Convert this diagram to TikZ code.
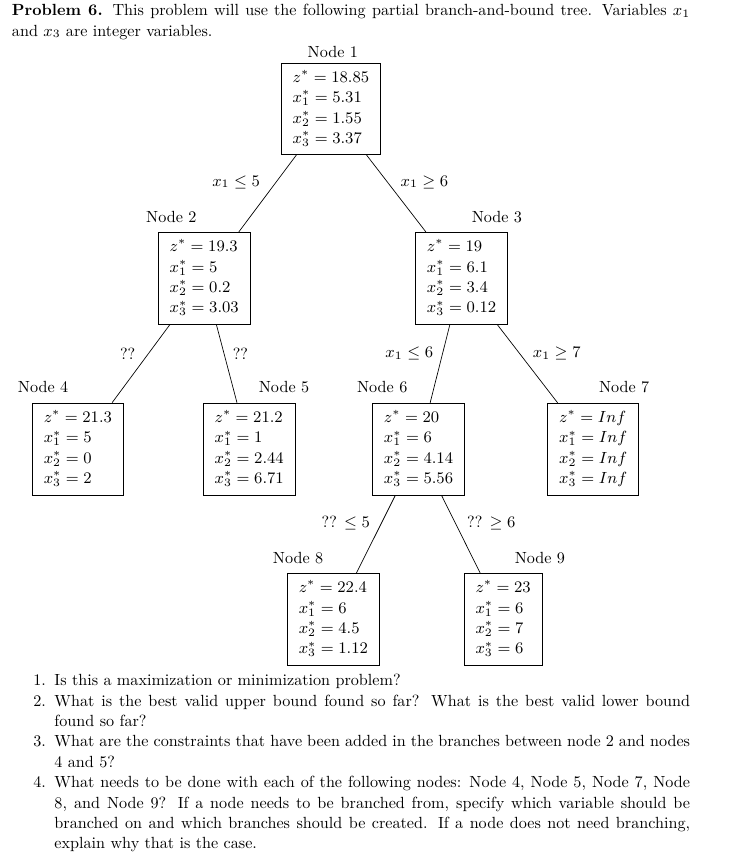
\RequirePackage{fix-cm}
\documentclass[tikz,border=0pt]{standalone}
\usepackage{amsmath}
\usepackage{enumitem}
\usepackage{tikz}
\usetikzlibrary{positioning}

\begin{document}
\begin{tikzpicture}[
  font=\fontsize{9.5}{12}\selectfont,
  bnb/.style={draw, line width=0.4pt, inner xsep=6.8pt, inner ysep=3pt},
  nodeTitle/.style={inner sep=0pt},
  edgeLabel/.style={inner sep=0pt},
  branch/.style={line width=0.4pt}
]
\useasboundingbox (0,0) rectangle (15.53,-17.61);

\node[anchor=north west, text width=398.8pt, align=justify, inner sep=0pt] (intro) at (0.24,-0.08)
  {\textbf{Problem 6.} This problem will use the following partial branch-and-bound tree. Variables $x_1$\linebreak and $x_3$ are integer variables.};

% the tree
\node[bnb] (n1) at (6.84,-2.25) {$\begin{array}{@{}l@{}} z^* = 18.85\\ x_1^* = 5.31\\ x_2^* = 1.55\\ x_3^* = 3.37 \end{array}$};
\node[bnb] (n2) at (4.22,-5.75) {$\begin{array}{@{}l@{}} z^* = 19.3\\ x_1^* = 5\\ x_2^* = 0.2\\ x_3^* = 3.03 \end{array}$};
\node[bnb] (n3) at (9.54,-5.75) {$\begin{array}{@{}l@{}} z^* = 19\\ x_1^* = 6.1\\ x_2^* = 3.4\\ x_3^* = 0.12 \end{array}$};
\node[bnb] (n4) at (1.61,-9.28) {$\begin{array}{@{}l@{}} z^* = 21.3\\ x_1^* = 5\\ x_2^* = 0\\ x_3^* = 2 \end{array}$};
\node[bnb] (n5) at (5.15,-9.28) {$\begin{array}{@{}l@{}} z^* = 21.2\\ x_1^* = 1\\ x_2^* = 2.44\\ x_3^* = 6.71 \end{array}$};
\node[bnb] (n6) at (8.65,-9.28) {$\begin{array}{@{}l@{}} z^* = 20\\ x_1^* = 6\\ x_2^* = 4.14\\ x_3^* = 5.56 \end{array}$};
\node[bnb] (n7) at (12.26,-9.28) {$\begin{array}{@{}l@{}} z^* = Inf\\ x_1^* = Inf\\ x_2^* = Inf\\ x_3^* = Inf \end{array}$};
\node[bnb] (n8) at (6.89,-12.80) {$\begin{array}{@{}l@{}} z^* = 22.4\\ x_1^* = 6\\ x_2^* = 4.5\\ x_3^* = 1.12 \end{array}$};
\node[bnb] (n9) at (10.40,-12.80) {$\begin{array}{@{}l@{}} z^* = 23\\ x_1^* = 6\\ x_2^* = 7\\ x_3^* = 6 \end{array}$};

\node[nodeTitle] (t1) at (6.88,-1.08) {Node 1};
\node[nodeTitle] (t2) at (3.54,-4.49) {Node 2};
\node[nodeTitle] (t3) at (10.27,-4.49) {Node 3};
\node[nodeTitle] (t4) at (0.89,-8.00) {Node 4};
\node[nodeTitle] (t5) at (5.87,-8.00) {Node 5};
\node[nodeTitle] (t6) at (7.90,-8.00) {Node 6};
\node[nodeTitle] (t7) at (12.90,-8.00) {Node 7};
\node[nodeTitle] (t8) at (6.16,-11.54) {Node 8};
\node[nodeTitle] (t9) at (11.16,-11.54) {Node 9};

\draw[branch] (n1) -- node[edgeLabel, pos=.35, left=9.4pt] {$x_1 \leq 5$} (n2);
\draw[branch] (n1) -- node[edgeLabel, pos=.35, right=7.6pt] {$x_1 \geq 6$} (n3);
\draw[branch] (n2) -- node[edgeLabel, pos=.375, left=7.4pt] {??} (n4);
\draw[branch] (n2) -- node[edgeLabel, pos=.375, right=4.9pt] {??} (n5);
\draw[branch] (n3) -- node[edgeLabel, pos=.37, left=5.4pt] {$x_1 \leq 6$} (n6);
\draw[branch] (n3) -- node[edgeLabel, pos=.37, right=7.7pt] {$x_1 \geq 7$} (n7);
\draw[branch] (n6) -- node[edgeLabel, pos=.36, left=6.5pt] {?? $\leq 5$} (n8);
\draw[branch] (n6) -- node[edgeLabel, pos=.36, right=6.7pt] {?? $\geq 6$} (n9);

% questions
\node[anchor=north west, inner sep=0pt] (questions) at (0.24,-13.93) {\begin{minipage}{398.8pt}
\begin{enumerate}[leftmargin=25pt, topsep=0pt, partopsep=0pt, itemsep=0pt, parsep=0pt]
\item Is this a maximization or minimization problem?
\item What is the best valid upper bound found so far? What is the best valid lower bound found so far?
\item What are the constraints that have been added in the branches between node 2 and nodes 4 and 5?
\item What needs to be done with each of the following nodes: Node 4, Node 5, Node 7, Node 8, and Node 9? If a node needs to be branched from, specify which variable should be branched on and which branches should be created. If a node does not need branching, explain why that is the case.
\end{enumerate}
\end{minipage}};
\end{tikzpicture}
\end{document}
